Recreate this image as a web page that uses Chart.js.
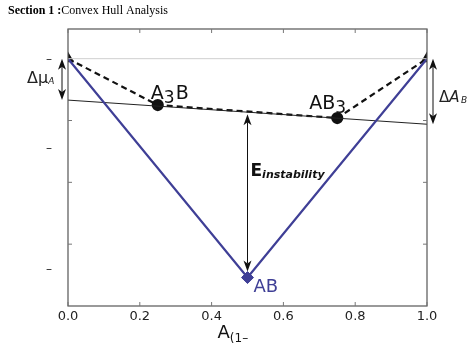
<!DOCTYPE html>
<html>
<head>
<meta charset="utf-8">
<script src="https://cdn.jsdelivr.net/npm/chart.js@4"></script>
<style>
  html, body { margin: 0; padding: 0; background: #fff; }
  #wrap { width: 474px; height: 358px; position: relative; }
</style>
</head>
<body>
<div id="wrap"><canvas id="myChart"></canvas></div>
<script>
// data (energy in arbitrary units)
const xTickValues = [0, 0.2, 0.4, 0.6, 0.8, 1.0];
const yTickValues = [-0.1, -0.2, -0.3];
const hullX = [0, 0.25, 0.75, 1];
const hullE = [0, -0.075, -0.096, 0];
const abX = [0, 0.5, 1];
const abE = [0, -0.354, 0];
const tieX = [0, 1];
const tieE = [-0.067, -0.106];
const refE = [0, 0];

const navy = "#3f3f96";

function pts(xs, ys) {
  return xs.map((x, i) => ({ x: x, y: ys[i] }));
}

function arrow(ctx, x, y1, y2) {
  ctx.save();
  ctx.strokeStyle = "#111";
  ctx.fillStyle = "#111";
  ctx.lineWidth = 1;
  ctx.beginPath();
  ctx.moveTo(x, y1 + 8);
  ctx.lineTo(x, y2 - 8);
  ctx.stroke();
  // heads
  ctx.beginPath();
  ctx.moveTo(x, y1);
  ctx.lineTo(x - 4, y1 + 11);
  ctx.lineTo(x, y1 + 8);
  ctx.lineTo(x + 4, y1 + 11);
  ctx.closePath();
  ctx.fill();
  ctx.beginPath();
  ctx.moveTo(x, y2);
  ctx.lineTo(x - 4, y2 - 11);
  ctx.lineTo(x, y2 - 8);
  ctx.lineTo(x + 4, y2 - 11);
  ctx.closePath();
  ctx.fill();
  ctx.restore();
}

function subText(ctx, x, y, main, mainFont, sub, subFont, color, dy) {
  ctx.save();
  ctx.fillStyle = color;
  ctx.textBaseline = "alphabetic";
  ctx.textAlign = "left";
  ctx.font = mainFont;
  ctx.fillText(main, x, y);
  const w = ctx.measureText(main).width;
  ctx.font = subFont;
  ctx.fillText(sub, x + w, y + dy);
  ctx.restore();
}

const decor = {
  id: "decor",
  afterDatasetsDraw(chart) {
    const ctx = chart.ctx;
    const a = chart.chartArea;
    const xs = chart.scales.x, ys = chart.scales.y;

    // frame
    ctx.save();
    ctx.strokeStyle = "#555";
    ctx.lineWidth = 1.2;
    ctx.strokeRect(a.left, a.top, a.right - a.left, a.bottom - a.top);

    // inward ticks
    ctx.lineWidth = 1;
    ctx.strokeStyle = "#777";
    ctx.beginPath();
    xTickValues.forEach(v => {
      const px = xs.getPixelForValue(v);
      ctx.moveTo(px, a.bottom); ctx.lineTo(px, a.bottom - 4);
      ctx.moveTo(px, a.top); ctx.lineTo(px, a.top + 4);
    });
    yTickValues.forEach(v => {
      const py = ys.getPixelForValue(v);
      ctx.moveTo(a.left, py); ctx.lineTo(a.left + 4, py);
      ctx.moveTo(a.right, py); ctx.lineTo(a.right - 4, py);
    });
    ctx.stroke();

    // truncated y labels
    ctx.fillStyle = "#222";
    ctx.font = "12px 'DejaVu Sans'";
    ctx.textAlign = "center";
    ctx.textBaseline = "middle";
    [0, -0.145, -0.34].forEach(v => {
      ctx.fillText("\u2013", a.left - 19, ys.getPixelForValue(v) + 1);
    });
    ctx.restore();

    // arrows
    const y0 = ys.getPixelForValue(0);
    arrow(ctx, a.left - 6, y0, ys.getPixelForValue(tieE[0]));
    arrow(ctx, a.right + 6, y0, ys.getPixelForValue(tieE[1]));
    const midTie = tieE[0] + (tieE[1] - tieE[0]) * 0.5;
    const xm = xs.getPixelForValue(0.5);
    arrow(ctx, xm, ys.getPixelForValue(midTie) + 2, ys.getPixelForValue(abE[1]) - 6);

    // labels
    const lab = "'DejaVu Sans', sans-serif";
    subText(ctx, xs.getPixelForValue(0.25) - 7, ys.getPixelForValue(hullE[1]) - 6,
      "A", "19px " + lab, "3", "17px " + lab, "#111", 4);
    ctx.save();
    ctx.font = "19px " + lab;
    ctx.fillStyle = "#111";
    ctx.fillText("B", xs.getPixelForValue(0.25) + 18, ys.getPixelForValue(hullE[1]) - 6);
    ctx.restore();
    subText(ctx, xs.getPixelForValue(0.75) - 28, ys.getPixelForValue(hullE[2]) - 9,
      "AB", "19px " + lab, "3", "17px " + lab, "#111", 4);
    ctx.save();
    ctx.font = "18px " + lab;
    ctx.fillStyle = navy;
    ctx.fillText("AB", xm + 6, ys.getPixelForValue(abE[1]) + 14);
    ctx.restore();
    subText(ctx, xm + 3, ys.getPixelForValue(-0.18) + 6,
      "E", "bold 17px " + lab, "instability", "bold italic 11px " + lab, "#111", 2);
    subText(ctx, 27, ys.getPixelForValue(-0.03) + 6,
      "\u0394\u03bc", "16px " + lab, "A", "italic 9px " + lab, "#222", 1);
    subText(ctx, a.right + 12, ys.getPixelForValue(-0.06) + 6,
      "\u0394", "15px " + lab, "A", "italic 15px " + lab, "#222", 0);
    ctx.save();
    ctx.font = "italic 9px " + lab;
    ctx.fillStyle = "#222";
    ctx.fillText("B", a.right + 34, ys.getPixelForValue(-0.06) + 7);
    ctx.restore();

    // x title
    subText(ctx, (a.left + a.right) / 2 - 30, a.bottom + 32,
      "A", "18px " + lab, "(1\u2013", "12px " + lab, "#111", 4);

    // section heading
    ctx.save();
    ctx.fillStyle = "#000";
    ctx.textBaseline = "alphabetic";
    ctx.font = "bold 12px 'Liberation Serif'";
    ctx.fillText("Section 1 :", 8, 14);
    const w = ctx.measureText("Section 1 :").width;
    ctx.font = "12px 'Liberation Serif'";
    ctx.fillText("Convex Hull Analysis", 8 + w, 14);
    ctx.restore();
  }
};

const config = {
  type: "scatter",
  data: {
    datasets: [
      {
        data: pts(tieX, refE),
        showLine: true,
        borderColor: "#cfcfcf",
        borderWidth: 1,
        pointRadius: 0,
      },
      {
        data: pts(abX, abE),
        showLine: true,
        borderColor: navy,
        borderWidth: 2.2,
        pointRadius: 0,
      },
      {
        data: pts(tieX, tieE),
        showLine: true,
        borderColor: "#222",
        borderWidth: 1,
        pointRadius: 0,
      },
      {
        data: pts(hullX, hullE),
        showLine: true,
        borderColor: "#111",
        borderWidth: 2.2,
        borderDash: [6, 4],
        pointStyle: ["triangle", "circle", "circle", "triangle"],
        pointRadius: [5, 5, 5, 5],
        pointBackgroundColor: "#111",
        pointBorderColor: "#111",
      },
      {
        data: [{ x: abX[1], y: abE[1] }],
        pointStyle: "rectRot",
        pointRadius: 6,
        pointBackgroundColor: navy,
        pointBorderColor: navy,
      },
    ],
  },
  options: {
    responsive: true,
    maintainAspectRatio: false,
    animation: false,
    layout: { padding: { left: 68, right: 47, top: 29, bottom: 0 } },
    plugins: { legend: { display: false }, tooltip: { enabled: false } },
    scales: {
      x: {
        type: "linear",
        min: 0,
        max: 1,
        afterBuildTicks: (s) => { s.ticks = xTickValues.map(v => ({ value: v })); },
        afterFit: (s) => { s.height = 52; },
        grid: { display: false, drawTicks: false },
        border: { display: false },
        ticks: {
          padding: 3,
          color: "#222",
          font: { family: "DejaVu Sans", size: 13 },
          callback: (v) => Number(v).toFixed(1),
        },
      },
      y: {
        min: -0.4,
        max: 0.048,
        afterFit: (s) => { s.width = 0; },
        grid: { display: false, drawTicks: false },
        border: { display: false },
        ticks: { display: false },
      },
    },
  },
  plugins: [decor],
};

const myChart = new Chart(document.getElementById("myChart"), config);
</script>
</body>
</html>
